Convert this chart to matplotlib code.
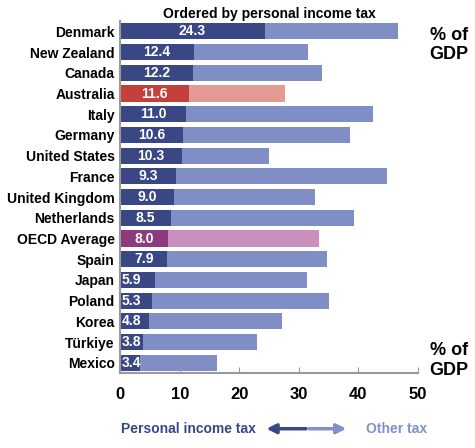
import matplotlib
matplotlib.use("Agg")
import matplotlib.pyplot as plt
from matplotlib.patches import FancyArrowPatch

countries = ["Denmark", "New Zealand", "Canada", "Australia", "Italy", "Germany",
             "United States", "France", "United Kingdom", "Netherlands", "OECD Average",
             "Spain", "Japan", "Poland", "Korea", "Türkiye", "Mexico"]
pit = [24.3, 12.4, 12.2, 11.6, 11.0, 10.6, 10.3, 9.3, 9.0, 8.5, 8.0, 7.9, 5.9, 5.3, 4.8, 3.8, 3.4]
total = [46.6, 31.5, 33.9, 27.7, 42.4, 38.6, 25.0, 44.8, 32.7, 39.3, 33.4, 34.7, 31.4, 35.1, 27.2, 23.0, 16.2]

dark = {"Australia": "#c4403a", "OECD Average": "#8c3c7c"}
light = {"Australia": "#e39a94", "OECD Average": "#c98fbd"}

plt.rcParams['font.family'] = ['Liberation Sans', 'DejaVu Sans']
fig = plt.figure(figsize=(4.75, 4.48), dpi=100)
ax = fig.add_axes([0.253, 0.167, 0.627, 0.786])

y = list(range(len(countries)))
for i, c in enumerate(countries):
    ax.barh(i, total[i], height=0.78, color=light.get(c, "#7f8ec4"))
    ax.barh(i, pit[i], height=0.78, color=dark.get(c, "#3a4785"))
    ax.text(pit[i] / 2 if pit[i] > 6 else 0.3, i, f"{pit[i]:.1f}", color="white",
            fontsize=10, fontweight="bold", va="center",
            ha="center" if pit[i] > 6 else "left")

ax.set_ylim(len(countries) - 0.5, -0.5)
ax.set_xlim(0, 50)
ax.set_yticks(y)
ax.set_yticklabels(countries, fontsize=10, fontweight="bold")
ax.set_xticks([0, 10, 20, 30, 40, 50])
ax.set_xticklabels(["0", "10", "20", "30", "40", "50"], fontsize=12, fontweight="bold")
ax.tick_params(axis="y", length=0, pad=4)
ax.tick_params(axis="x", direction="in", length=4, color="#999999", pad=10)
for s in ["top", "right"]:
    ax.spines[s].set_visible(False)
for s in ["left", "bottom"]:
    ax.spines[s].set_color("#999999")
    ax.spines[s].set_linewidth(1.5)
ax.set_title("Ordered by personal income tax", fontsize=10, fontweight="bold", pad=2)

fig.text(0.985, 0.9, "% of\nGDP", fontsize=13, fontweight="bold", ha="right", va="center")
fig.text(0.985, 0.195, "% of\nGDP", fontsize=13, fontweight="bold", ha="right", va="center")

fig.text(0.255, 0.043, "Personal income tax", color="#3a4785", fontsize=10, fontweight="bold", va="center")
fig.text(0.77, 0.043, "Other tax", color="#8090c8", fontsize=10, fontweight="bold", va="center")
fig.patches.append(FancyArrowPatch((0.555, 0.043), (0.65, 0.043), transform=fig.transFigure,
                                   arrowstyle="<|-", mutation_scale=14, color="#3a4785", lw=2.5))
fig.patches.append(FancyArrowPatch((0.645, 0.043), (0.735, 0.043), transform=fig.transFigure,
                                   arrowstyle="-|>", mutation_scale=14, color="#8090c8", lw=2.5))

fig.savefig("out.png", dpi=100)
